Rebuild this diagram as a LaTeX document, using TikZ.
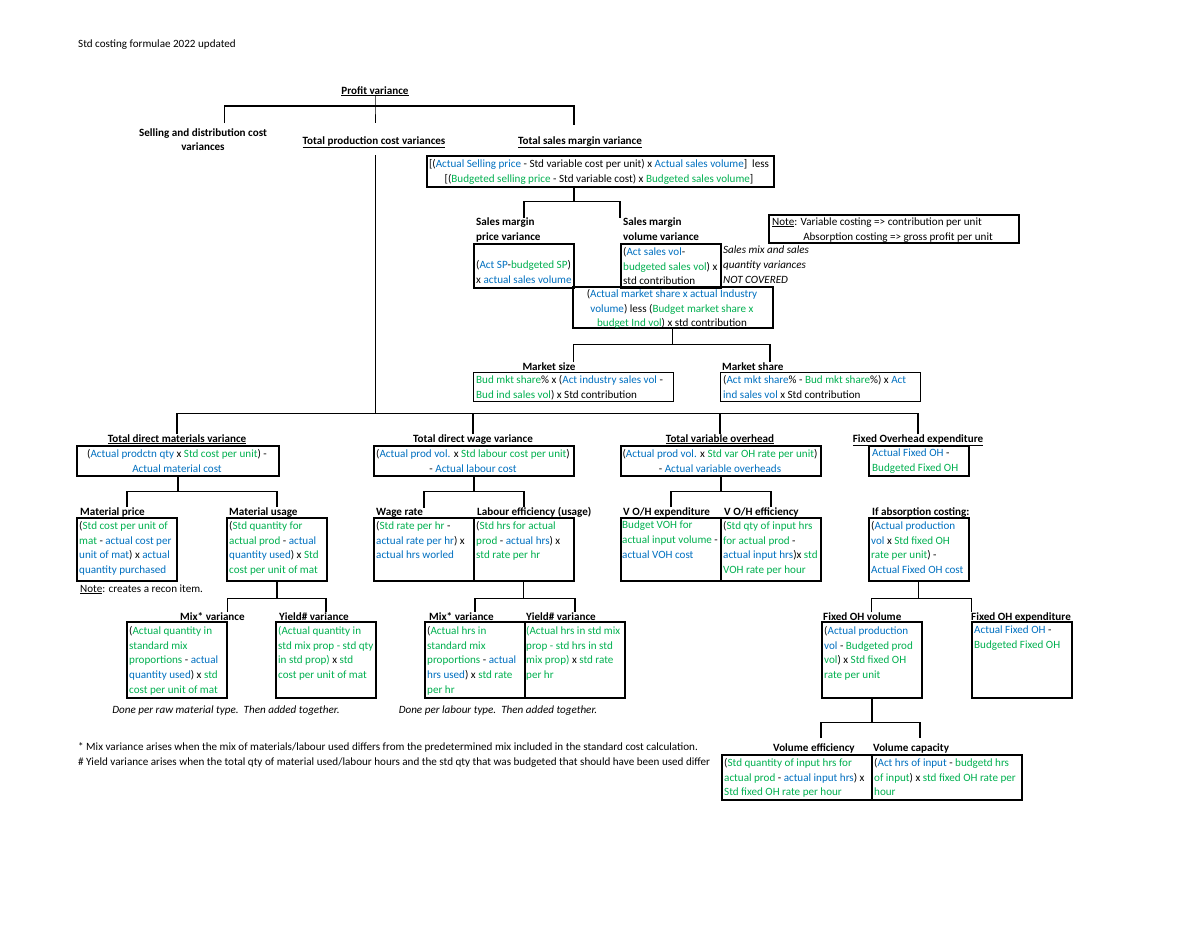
\documentclass[tikz,border=0pt]{standalone}
\usepackage{fontspec}
\setmainfont{Carlito}
\usetikzlibrary{positioning,calc}
\definecolor{actblue}{RGB}{0,112,192}
\definecolor{budgreen}{RGB}{0,176,80}
\newcommand{\blu}[1]{\textcolor{actblue}{#1}}
\newcommand{\grn}[1]{\textcolor{budgreen}{#1}}
\newcommand{\txtfont}{\fontsize{11.1}{14.7}\selectfont}
\begin{document}
\begin{tikzpicture}[x=1pt,y=-1pt,
    every node/.style={inner sep=0pt,font=\txtfont},
    head/.style={font=\txtfont\bfseries,anchor=base},
    lbl/.style={font=\txtfont\bfseries,anchor=base west},
    body/.style={align=left,anchor=north west},
    frame/.style={draw,line width=1.6pt,anchor=north west},
    thinframe/.style={draw,line width=0.8pt,anchor=north west},
    conn/.style={line width=0.8pt},
    tconn/.style={line width=1.6pt}]

  \fill[white] (0,0) rectangle (1200,927);
  \useasboundingbox (0,0) rectangle (1200,927);

  \node[anchor=base west] (title) at (78,47) {Std costing formulae 2022 updated};

  %% PROFIT LEVEL
  \node[head] (pv) at (375,94) {\underline{Profit variance}};
  \node[head,align=center,anchor=north] (sdL) at (203,128) {Selling and distribution cost\\variances};
  \node[head] (tpL) at (374,144) {\underline{Total production cost variances}};
  \node[head] (tsL) at (580,144) {\underline{Total sales margin variance}};

  \coordinate (jPV) at (375,106);
  \coordinate (sdTop) at (224,123);
  \coordinate (tpTop) at (375,123);
  \coordinate (tsTop) at (574,125);
  \draw[conn] (pv.south) -- (jPV) -- (tpTop);
  \draw[conn] (sdTop) -- (sdTop |- jPV);
  \draw[tconn] (sdTop |- jPV) -| (tsTop);

  %% SALES MARGIN
  \node[frame,minimum width=347,minimum height=31] (tsB) at (426,155) {};
  \node[anchor=north,align=center] (tsT) at (599,159)
    {[(\blu{Actual Selling price} - Std variable cost per unit) x \blu{Actual sales volume}]\ \ less\\
     {}[(\grn{Budgeted selling price} - Std variable cost) x \grn{Budgeted sales volume}]};

  \node[lbl,align=left,anchor=north west] (spmL) at (476,218) {Sales margin\\price variance};
  \node[lbl,align=left,anchor=north west] (svL) at (623,218) {Sales margin\\volume variance};
  \node[frame,minimum width=100,minimum height=44] (spmB) at (473,243) {};
  \node[body] (spmT) at (476,260) {(\blu{Act SP}-\grn{budgeted SP})\\x \blu{actual sales volume}};
  \node[frame,minimum width=100,minimum height=44] (svB) at (620,243) {};
  \node[body] (svT) at (623,247) {(\blu{Act sales vol}-\\\grn{budgeted sales vol}) x\\std contribution};
  \node[body,font=\txtfont\itshape] (ncT) at (723,246) {Sales mix and sales\\quantity variances\\NOT COVERED};

  \draw[tconn] (tsB.south -| tsTop) -- ++(0,14) coordinate (jTS);
  \draw[tconn] (spmB.north |- spmL.north) |- (jTS) -| (svB.north west |- svL.north);

  % note on costing
  \node[frame,minimum width=250,minimum height=28] (noteB) at (768,214) {};
  \node[anchor=base west] (noteA) at (772,225) {\underline{Note}: Variable costing => contribution per unit};
  \node[anchor=base east] (noteC) at (993,240) {Absorption costing => gross profit per unit};

  %% MARKET SIZE / SHARE
  \node[frame,minimum width=200,minimum height=41] (mkB) at (572,286) {};
  \node[anchor=north,align=center] (mkT) at (672,289)
    {(\blu{Actual market share x actual Industry}\\
     \blu{volume}) less (\grn{Budget market share x}\\
     \grn{budget Ind vol}) x std contribution};
  \draw[conn] (mkB.south) -- ++(0,16) coordinate (jMK);

  \node[lbl,anchor=base] (msL) at (549,370) {Market size};
  \node[lbl] (mhL) at (722,370) {Market share};
  \node[thinframe,minimum width=200,minimum height=29] (msB) at (473,372) {};
  \node[body] (msT) at (476,375) {\grn{Bud mkt share}\% x (\blu{Act industry sales vol} -\\\grn{Bud ind sales vol}) x Std contribution};
  \node[thinframe,minimum width=200,minimum height=29] (mhB) at (720,372) {};
  \node[body] (mhT) at (723,375) {(\blu{Act mkt share}\% - \grn{Bud mkt share}\%) x \blu{Act}\\\blu{ind sales vol} x Std contribution};
  \coordinate (mhTop) at ($(mhB.north west)!0.25!(mhB.north east)$);
  \draw[tconn] (msB.north |- msL.north) |- (jMK) -| (mhTop |- mhL.north);

  %% PRODUCTION COST
  \coordinate (tpBot) at (375,155);
  \coordinate (jTP) at (375,413);
  \draw[conn] (tpBot) -- (jTP);

  \node[head] (tdmL) at (177,442) {\underline{Total direct materials variance}};
  \node[head] (twL) at (473,442) {\underline{Total direct wage variance}};
  \node[head] (tvL) at (720,442) {\underline{Total variable overhead}};
  \node[head] (foeL) at (918,442) {\underline{Fixed Overhead expenditure}};
  \draw[conn] (tdmL.north |- jTP) -- (foeL.north |- jTP);
  \foreach \n in {tdmL,twL,tvL,foeL}
    \draw[tconn] (\n.north) -- (\n.north |- jTP);

  \node[frame,minimum width=202,minimum height=30] (tdmB) at (76,445) {};
  \node[anchor=north,align=center] (tdmT) at (177,449) {(\blu{Actual prodctn qty} x \grn{Std cost per unit}) -\\\blu{Actual material cost}};
  \node[frame,minimum width=200,minimum height=30] (twB) at (373,445) {};
  \node[anchor=north,align=center] (twT) at (473,449) {(\blu{Actual prod vol.} x \grn{Std labour cost per unit})\\- \blu{Actual labour cost}};
  \node[frame,minimum width=200,minimum height=30] (tvB) at (620,445) {};
  \node[anchor=north,align=center] (tvT) at (720,449) {(\blu{Actual prod vol.} x \grn{Std var OH rate per unit})\\- \blu{Actual variable overheads}};
  \node[frame,minimum width=100,minimum height=30] (foeB) at (868,445) {};
  \node[body] (foeT) at (872,449) {\blu{Actual Fixed OH} -\\\grn{Budgeted Fixed OH}};

  %% MATERIALS / LABOUR / OVERHEAD SPLIT
  \node[lbl] (mpL) at (80,515) {Material price};
  \node[lbl] (muL) at (229,515) {Material usage};
  \node[lbl] (wrL) at (376,515) {Wage rate};
  \node[lbl] (leL) at (477,515) {Labour efficiency (usage)};
  \node[lbl] (vxL) at (623,515) {V O/H expenditure};
  \node[lbl] (vfL) at (724,515) {V O/H efficiency};
  \node[lbl] (iaL) at (872,515) {If absorption costing:};

  \foreach \b/\x in {mpB/76,muB/226,wrB/373,leB/473,vxB/620,vfB/720,iaB/868}
    \node[frame,minimum width=100,minimum height=63] (\b) at (\x,517) {};

  \node[body] (mpT) at (79,521) {(\grn{Std cost per unit of}\\\grn{mat} - \blu{actual cost per}\\\blu{unit of mat}) x \blu{actual}\\\blu{quantity purchased}};
  \node[body] (muT) at (229,521) {(\grn{Std quantity for}\\\grn{actual prod} - \blu{actual}\\\blu{quantity used}) x \grn{Std}\\\grn{cost per unit of mat}};
  \node[body] (wrT) at (376,521) {(\grn{Std rate per hr} -\\\blu{actual rate per hr}) x\\\blu{actual hrs worled}};
  \node[body] (leT) at (476,521) {(\grn{Std hrs for actual}\\\grn{prod} - \blu{actual hrs}) x\\\grn{std rate per hr}};
  \node[body] (vxT) at (622,521) {\grn{Budget VOH for}\\\grn{actual input volume} -\\\blu{actual VOH cost}};
  \node[body] (vfT) at (723,521) {(\grn{Std qty of input hrs}\\\grn{for actual prod} -\\\blu{actual input hrs})x \grn{std}\\\grn{VOH rate per hour}};
  \node[body] (iaT) at (871,521) {(\blu{Actual production}\\\blu{vol} x \grn{Std fixed OH}\\\grn{rate per unit}) -\\\blu{Actual Fixed OH cost}};
  \node[anchor=base west] (recon) at (80,592) {\underline{Note}: creates a recon item.};

  \draw[tconn] (tdmB.south) -- ++(0,15) coordinate (jTDM);
  \draw[tconn] (mpB.north |- mpL.north) |- (jTDM) -| (muB.north |- muL.north);
  \draw[tconn] (twB.south) -- ++(0,15) coordinate (jTW);
  \draw[tconn] (wrB.north |- wrL.north) |- (jTW) -| (leB.north |- leL.north);
  \draw[tconn] (tvB.south) -- ++(0,15) coordinate (jTV);
  \draw[tconn] (vxB.north |- vxL.north) |- (jTV) -| (vfB.north |- vfL.north);

  %% MIX / YIELD AND FIXED OH
  \node[lbl] (mmL) at (180,620) {Mix* variance};
  \node[lbl] (myL) at (279,620) {Yield\# variance};
  \node[lbl] (lmL) at (429,620) {Mix* variance};
  \node[lbl] (lyL) at (526,620) {Yield\# variance};
  \node[lbl] (fvL) at (823,620) {Fixed OH volume};
  \node[lbl] (fxL) at (971,620) {Fixed OH expenditure};

  \foreach \b/\x in {mmB/126,myB/275,lmB/424,lyB/524,fvB/821,fxB/971}
    \node[frame,minimum width=100,minimum height=76] (\b) at (\x,621) {};

  \node[body] (mmT) at (129,626) {(\grn{Actual quantity in}\\\grn{standard mix}\\\grn{proportions} - \blu{actual}\\\blu{quantity used}) x \grn{std}\\\grn{cost per unit of mat}};
  \node[body] (myT) at (278,626) {\grn{(Actual quantity in}\\\grn{std mix prop - std qty}\\\grn{in std prop)} x \grn{std}\\\grn{cost per unit of mat}};
  \node[body] (lmT) at (427,626) {(\grn{Actual hrs in}\\\grn{standard mix}\\\grn{proportions} - \blu{actual}\\\blu{hrs used}) x \grn{std rate}\\\grn{per hr}};
  \node[body] (lyT) at (526,626) {\grn{(Actual hrs in std mix}\\\grn{prop - std hrs in std}\\\grn{mix prop)} x \grn{std rate}\\\grn{per hr}};
  \node[body] (fvT) at (824,626) {(\blu{Actual production}\\\blu{vol} - \grn{Budgeted prod}\\\grn{vol}) x \grn{Std fixed OH}\\\grn{rate per unit}};
  \node[body] (fxT) at (974,626) {\blu{Actual Fixed OH} -\\\grn{Budgeted Fixed OH}};

  \draw[tconn] (muB.south) -- ++(0,17) coordinate (jMU);
  \draw[tconn] (mmB.north east |- mmL.north) |- (jMU) -| (myB.north |- myL.north);
  \draw[conn] (leB.south) -- ++(0,17) coordinate (jLE);
  \draw[tconn] (lmB.north |- lmL.north) |- (jLE) -| (lyB.north |- lyL.north);
  \draw[conn] (iaB.south) -- ++(0,17) coordinate (jIA);
  \draw[conn] (fvB.north |- fvL.north) |- (jIA) -| (fxB.north west |- fxL.north);

  \node[anchor=base,font=\txtfont\itshape] (doneM) at (226,713) {Done per raw material type.\ \ Then added together.};
  \node[anchor=base,font=\txtfont\itshape] (doneL) at (498,713) {Done per labour type.\ \ Then added together.};

  %% VOLUME EFFICIENCY / CAPACITY
  \node[lbl] (veL) at (773,751) {Volume efficiency};
  \node[lbl] (vcL) at (873,751) {Volume capacity};
  \node[frame,minimum width=150,minimum height=45] (veB) at (721,754) {};
  \node[frame,minimum width=150,minimum height=45] (vcB) at (871,754) {};
  \node[body] (veT) at (724,758) {(\grn{Std quantity of input hrs for}\\\grn{actual prod} - \blu{actual input hrs}) x\\\grn{Std fixed OH rate per hour}};
  \node[body] (vcT) at (874,758) {(\blu{Act hrs of input} - \grn{budgetd hrs}\\\grn{of input}) x \grn{std fixed OH rate per}\\\grn{hour}};
  \coordinate (veTop) at (821,738);
  \coordinate (vcTop) at (920,738);
  \draw[tconn] (fvB.south) -- ++(0,24) coordinate (jFV);
  \draw[tconn] (veTop) |- (jFV) -| (vcTop);

  %% FOOTNOTES
  \node[anchor=base west] (fn1) at (78,750) {* Mix variance arises when the mix of materials/labour used differs from the predetermined mix included in the standard cost calculation.};
  \node[anchor=base west] (fn2) at (78,765) {\# Yield variance arises when the total qty of material used/labour hours and the std qty that was budgeted that should have been used differ};

\end{tikzpicture}
\end{document}
